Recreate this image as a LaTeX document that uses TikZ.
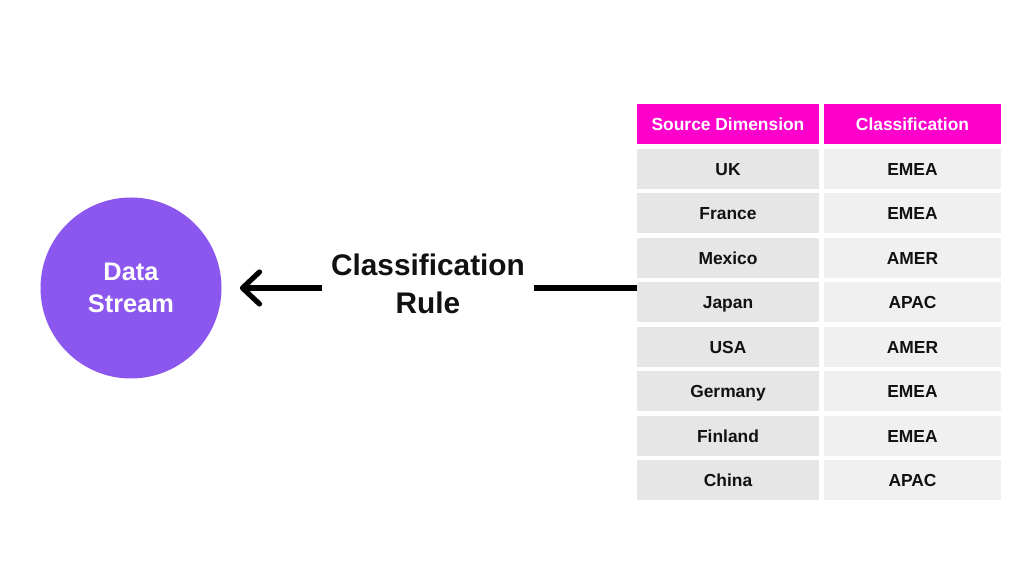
\documentclass[tikz,border=0pt]{standalone}
\usepackage{fontspec}
\setmainfont{Liberation Sans}
\usetikzlibrary{arrows.meta,calc}
\definecolor{purp}{HTML}{8B57EE}
\definecolor{mag}{HTML}{FF00CC}
\definecolor{ga}{HTML}{E6E6E6}
\definecolor{gb}{HTML}{F0F0F0}
\definecolor{ink}{HTML}{111111}
\begin{document}
\begin{tikzpicture}[x=0.5pt,y=-0.5pt,
  cell/.style={inner sep=0pt, minimum height=20pt, text height=6.3pt, text depth=0pt, font=\bfseries\fontsize{8.7}{10}\selectfont},
  hdr/.style={cell, fill=mag, text=white},
  cola/.style={cell, fill=ga, text=ink, minimum width=91pt},
  colb/.style={cell, fill=gb, text=ink, minimum width=88.5pt},
  conn/.style={line width=2.6pt, draw=black},
]
\useasboundingbox (0,0) rectangle (1024,576);
\fill[white] (0,0) rectangle (1024,576);

% circle
\node[circle, fill=purp, minimum size=90.5pt, inner sep=0pt, text=white,
      align=center, font=\bfseries\fontsize{12.7}{16}\selectfont] (ds) at (131,288) {Data\\Stream};

% label
\node[align=center, inner sep=4.5pt, text=ink, font=\bfseries\fontsize{14.9}{19}\selectfont] (rule) at (428,284) {Classification\\Rule};

% table header
\node[hdr, minimum width=91pt] (h1) at (728,124) {Source Dimension};
\node[hdr, minimum width=88.5pt] (h2) at (912.5,124) {Classification};

% rows
\foreach \a/\b [count=\i from 0] in {UK/EMEA, France/EMEA, Mexico/AMER, Japan/APAC, USA/AMER, Germany/EMEA, Finland/EMEA, China/APAC}{
  \node[cola] (a\i) at (728,{169+44.5*\i}) {\a};
  \node[colb] (b\i) at (912.5,{169+44.5*\i}) {\b};
}

% connectors
\draw[conn, -{Straight Barb[length=8.5pt, width=16pt, line cap=round, line join=round]}, shorten >=9pt]
  (rule.west |- ds.east) -- (ds.east);
\draw[conn] (rule.east |- ds.east) -- (a3.west |- ds.east);
\end{tikzpicture}
\end{document}
